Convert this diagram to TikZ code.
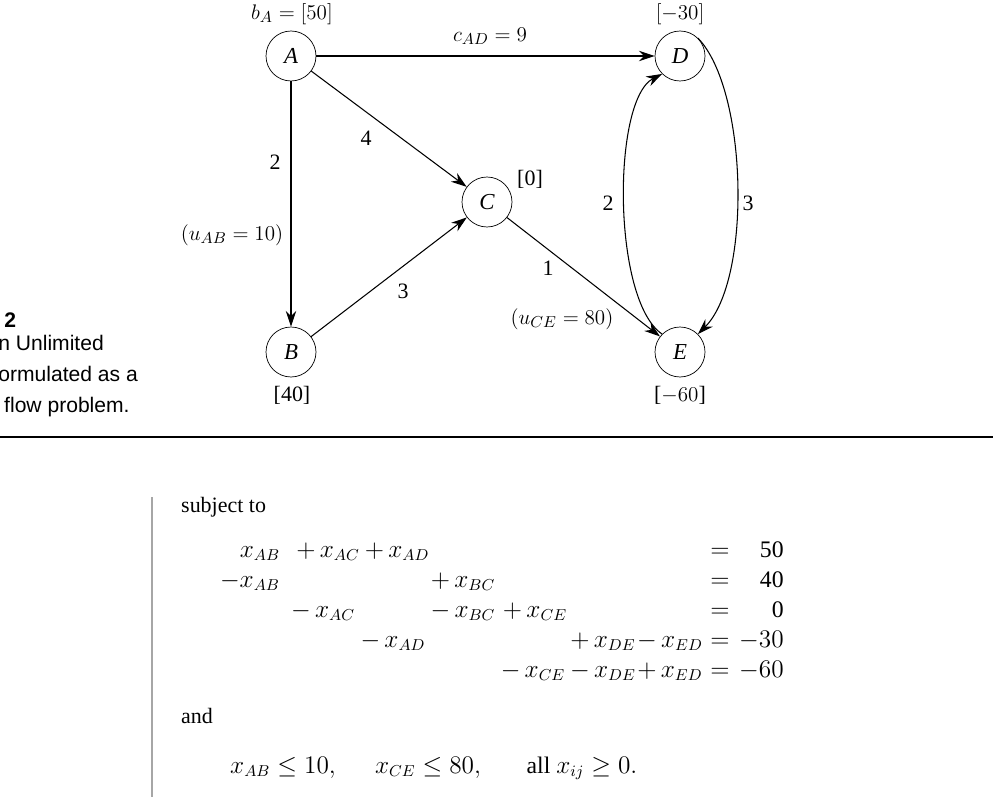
\documentclass[tikz,border=0pt]{standalone}
\usepackage{fontspec}
\setmainfont{Liberation Serif}
\newfontfamily\capfont{Liberation Sans}
\usetikzlibrary{arrows.meta,positioning}
\tikzset{
  netnode/.style={circle,draw,minimum size=1cm,inner sep=0pt,font=\fontsize{13}{15}\selectfont\itshape},
  flow/.style={-{Stealth[length=9pt,width=6pt]},semithick},
  lbl/.style={inner sep=1pt},
  term/.style={inner sep=0pt,anchor=base,font=\fontsize{13.5}{16}\selectfont}
}
\begin{document}
\begin{tikzpicture}[x=0.02cm,y=-0.02cm,font=\fontsize{12.5}{15}\selectfont]
\useasboundingbox (0,0) rectangle (993,797);
% network
\node[netnode] (A) at (291,56)  {A};
\node[netnode] (D) at (680,56)  {D};
\node[netnode] (C) at (487,202) {C};
\node[netnode] (B) at (291,352) {B};
\node[netnode] (E) at (680,352) {E};

\node (bA) at (292,14)  {$b_A=[50]$};
\node (bD) at (680,14)  {$[-30]$};
\node (bC) at (530,179) {[0]};
\node (bB) at (292,395) {[40]};
\node (bE) at (680,395) {[$-60$]};

\draw[flow] (A) -- (D);
\draw[flow] (A) -- (C);
\draw[flow] (A) -- (B);
\draw[flow] (B) -- (C);
\draw[flow] (C) -- (E);
\draw[flow] (E.north west) .. controls (612,300) and (612,100) .. (D.south west);
\draw[flow] (D.north east) .. controls (748,90) and (752,280) .. (E.north east);

\node (cAD) at (490,36)  {$c_{AD}=9$};
\node (wAC) at (366,138) {4};
\node (wAB) at (275,162) {2};
\node (wBC) at (403,291) {3};
\node (wCE) at (548,268) {1};
\node (wED) at (608,203) {2};
\node (wDE) at (748,203) {3};
\node (uAB) at (232,235) {$(u_{AB}=10)$};
\node (uCE) at (562,319) {$(u_{CE}=80)$};

% caption fragment
\node[anchor=west,inner sep=0pt,font=\capfont\bfseries\fontsize{12}{14}\selectfont] (fig) at (4,320) {2};
\node[anchor=north west,inner sep=0pt,align=left,font=\capfont\fontsize{12}{17.5}\selectfont] (cap) at (-2,335)
  {n Unlimited\\ormulated as a\\\ flow problem.};

\draw[line width=1.2pt] (0,437) -- (993,437);
\draw[gray!70,line width=1.5pt] (152,497) -- (152,797);

% constraints
\node[anchor=west] (st) at (175,507) {subject to};
\foreach \x/\t in {260/{$x_{AB}$},328/{$+\,x_{AC}$},397/{$+\,x_{AD}$}}
  \node[term] at (\x,557) {\t};
\foreach \x/\t in {250/{$-x_{AB}$},463/{$+\,x_{BC}$}}
  \node[term] at (\x,587) {\t};
\foreach \x/\t in {323/{$-\,x_{AC}$},463/{$-\,x_{BC}$},535/{$+\,x_{CE}$}}
  \node[term] at (\x,617) {\t};
\foreach \x/\t in {393/{$-\,x_{AD}$},603/{$+\,x_{DE}$},670/{$-\,x_{ED}$}}
  \node[term] at (\x,647) {\t};
\foreach \x/\t in {533/{$-\,x_{CE}$},603/{$-\,x_{DE}$},670/{$+\,x_{ED}$}}
  \node[term] at (\x,677) {\t};
\foreach \y/\r in {557/50,587/40,617/0,647/$-30$,677/$-60$}{
  \node[term] at (720,\y) {$=$};
  \node[term,anchor=base east] at (784,\y) {\r};
}
\node[anchor=west] (and) at (175,716) {and};
\node[term] (c1) at (283,773) {$x_{AB}\le 10,$};
\node[term] (c2) at (428,773) {$x_{CE}\le 80,$};
\node[term] (c3) at (582,773) {all $x_{ij}\ge 0.$};
\end{tikzpicture}
\end{document}
